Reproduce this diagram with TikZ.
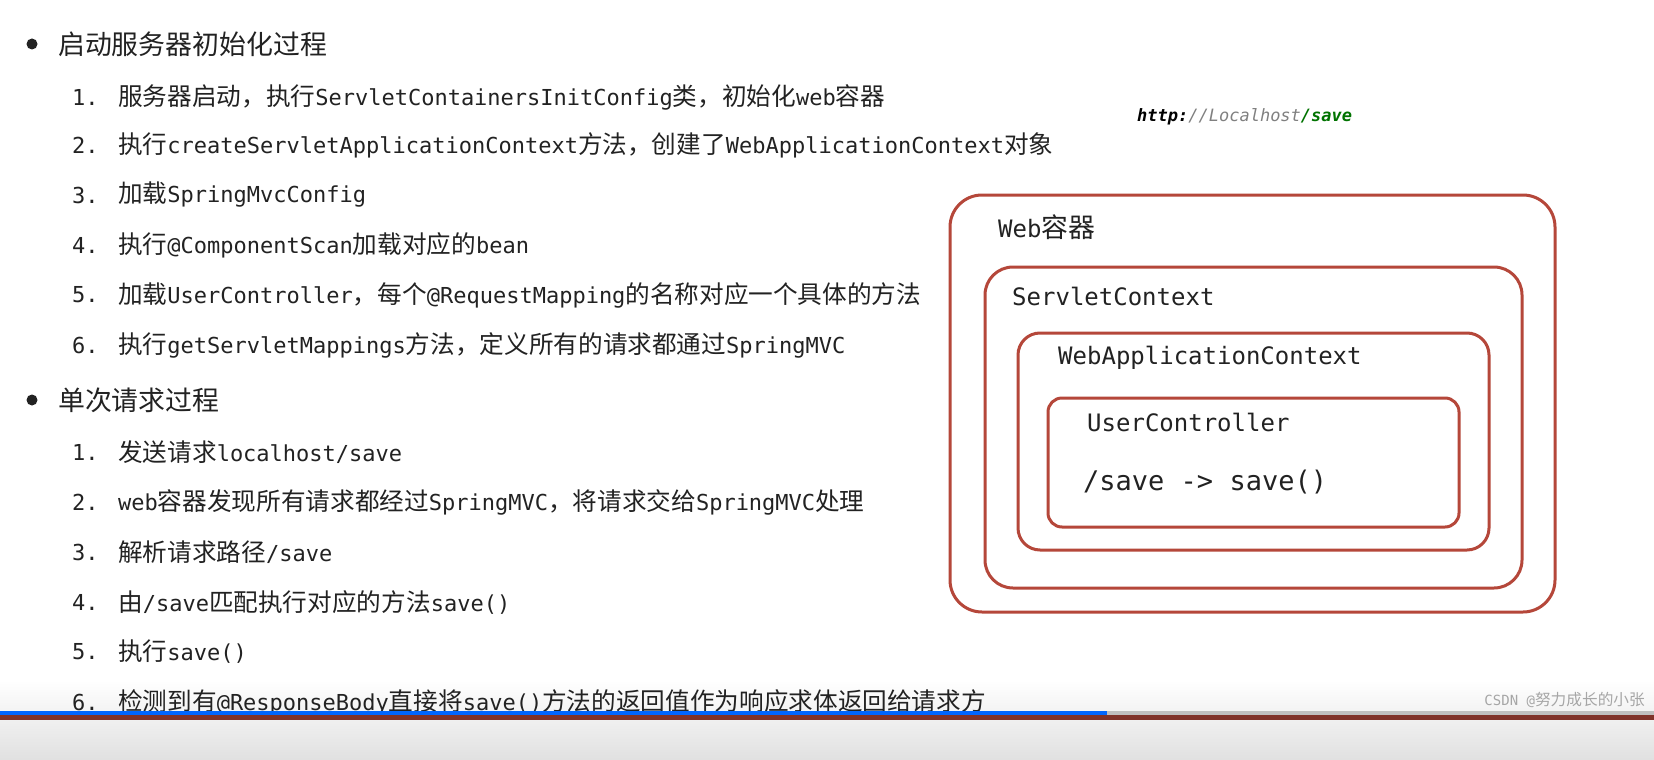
\documentclass[tikz,border=0pt]{standalone}
\usepackage{fontspec}
\setmainfont{DejaVu Sans Mono}
\newfontfamily\cjk{Noto Sans CJK SC}[Scale=1.12]
\definecolor{boxred}{HTML}{B5473A}
\definecolor{txt}{HTML}{222222}
\begin{document}
\begin{tikzpicture}[x=1pt,y=-1pt,
  line/.style={anchor=west,inner sep=0pt,text=txt,font=\fontsize{22}{24}\selectfont},
  num/.style={anchor=west,inner sep=0pt,text=txt,font=\fontsize{22}{24}\selectfont},
  head/.style={anchor=west,inner sep=0pt,text=txt,font=\fontsize{24}{26}\selectfont},
  rbox/.style={draw=boxred,line width=3pt,rounded corners=32pt},
  blabel/.style={anchor=west,inner sep=0pt,text=txt,font=\fontsize{24}{26}\selectfont}]
\useasboundingbox (0,0) rectangle (1654,760);
\fill[white] (0,0) rectangle (1654,760);
\shade[top color=white,bottom color=black!12] (0,680) rectangle (1654,760);
\fill[txt] (32,44) circle (5.5pt);
\fill[txt] (32,400) circle (5.5pt);
\node[head] (h1) at (58,44) {\cjk 启动服务器初始化过程};
\node[head] (h2) at (58,400) {\cjk 单次请求过程};
\foreach \n/\y in {1/97,2/145,3/195,4/245,5/295,6/345,1/452,2/502,3/552,4/602,5/652,6/702}
  \node[num] at (72,\y) {\n.};
\node[line] (a1) at (118,97) {{\cjk 服务器启动，执行}ServletContainersInitConfig{\cjk 类，初始化}web{\cjk 容器}};
\node[line] (a2) at (118,145) {{\cjk 执行}createServletApplicationContext{\cjk 方法，创建了}WebApplicationContext{\cjk 对象}};
\node[line] (a3) at (118,195) {{\cjk 加载}SpringMvcConfig};
\node[line] (a4) at (118,245) {{\cjk 执行}@ComponentScan{\cjk 加载对应的}bean};
\node[line] (a5) at (118,295) {{\cjk 加载}UserController{\cjk ，每个}@RequestMapping{\cjk 的名称对应一个具体的方法}};
\node[line] (a6) at (118,345) {{\cjk 执行}getServletMappings{\cjk 方法，定义所有的请求都通过}SpringMVC};
\node[line] (b1) at (118,452) {{\cjk 发送请求}localhost/save};
\node[line] (b2) at (118,502) {web{\cjk 容器发现所有请求都经过}SpringMVC{\cjk ，将请求交给}SpringMVC{\cjk 处理}};
\node[line] (b3) at (118,552) {{\cjk 解析请求路径}/save};
\node[line] (b4) at (118,602) {{\cjk 由}/save{\cjk 匹配执行对应的方法}save()};
\node[line] (b5) at (118,652) {{\cjk 执行}save()};
\node[line] (b6) at (118,702) {{\cjk 检测到有}@ResponseBody{\cjk 直接将}save(){\cjk 方法的返回值作为响应求体返回给请求方}};
\node[anchor=west,inner sep=0pt,font=\fontsize{17}{19}\selectfont\itshape] (url) at (1137,117)
  {\textbf{http:}\textcolor{gray}{//Localhost}\textcolor{green!45!black}{\textbf{/save}}};
\draw[rbox] (950,195) rectangle (1555,612);
\draw[rbox,rounded corners=28pt] (985,267) rectangle (1522,588);
\draw[rbox,rounded corners=22pt] (1018,333) rectangle (1489,550);
\draw[rbox,rounded corners=14pt] (1048,398) rectangle (1459,527);
\node[blabel] (w) at (998,227) {Web{\cjk 容器}};
\node[blabel] (sc) at (1012,296) {ServletContext};
\node[blabel] (wac) at (1058,358) {WebApplicationContext};
\node[blabel] (uc) at (1087,422) {UserController};
\node[blabel,font=\fontsize{27}{29}\selectfont] (m) at (1083,482) {/save -> save()};
\fill[black!25] (0,711) rectangle (1654,715);
\fill[blue!60!cyan] (0,711) rectangle (1107,715);
\fill[boxred!70!black] (0,715) rectangle (1654,720);
\node[anchor=east,inner sep=0pt,text=gray!70,font=\fontsize{14}{16}\selectfont] (wm) at (1645,700) {CSDN @{\cjk 努力成长的小张}};
\end{tikzpicture}
\end{document}
